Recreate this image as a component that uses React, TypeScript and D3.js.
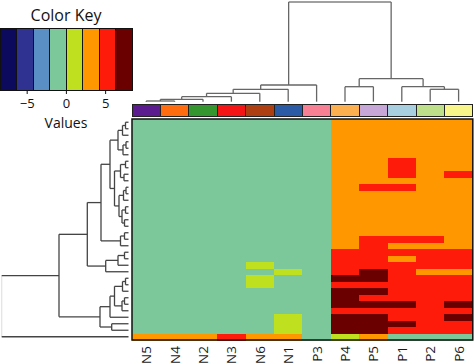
import * as d3 from 'd3';

type Tree = number | [Tree, Tree, number];

// columns in display order (left to right)
const colLabels = ['N5', 'N4', 'N2', 'N3', 'N6', 'N1', 'P3', 'P4', 'P5', 'P1', 'P2', 'P6'];
const colColors = ['#5a1c8e', '#ff6d10', '#35952f', '#f41616', '#ae3f12', '#2c5ba6',
  '#f88095', '#fdb04f', '#c7a7d7', '#a7cfe0', '#bfe08b', '#f8f58b'];

// colour key
const keyColors = ['#0c0a5c', '#2f3291', '#5a8fc6', '#7cc89b', '#bfe01e', '#ff9700', '#ff1b0a', '#6b0000'];
const keyBreaks = [-8.4, -6.3, -4.2, -2.1, 0, 2.1, 4.2, 6.3, 8.4];
const keyTicks = [-5, 0, 5];

// heatmap values, one row per gene (top to bottom)
const values: number[][] = [
  [-0.6, -0.6, -0.6, -0.6, -0.6, -0.6, -0.6, 3.2, 3.2, 3.2, 3.2, 3.2],
  [-0.6, -0.6, -0.6, -0.6, -0.6, -0.6, -0.6, 3.2, 3.2, 3.2, 3.2, 3.2],
  [-0.6, -0.6, -0.6, -0.6, -0.6, -0.6, -0.6, 3.2, 3.2, 3.2, 3.2, 3.2],
  [-0.6, -0.6, -0.6, -0.6, -0.6, -0.6, -0.6, 3.2, 3.2, 3.2, 3.2, 3.2],
  [-0.6, -0.6, -0.6, -0.6, -0.6, -0.6, -0.6, 3.2, 3.2, 3.2, 3.2, 3.2],
  [-0.6, -0.6, -0.6, -0.6, -0.6, -0.6, -0.6, 3.2, 3.2, 3.2, 3.2, 3.2],
  [-0.6, -0.6, -0.6, -0.6, -0.6, -0.6, -0.6, 3.2, 3.2, 5.3, 3.2, 3.2],
  [-0.6, -0.6, -0.6, -0.6, -0.6, -0.6, -0.6, 3.2, 3.2, 5.3, 3.2, 3.2],
  [-0.6, -0.6, -0.6, -0.6, -0.6, -0.6, -0.6, 3.2, 3.2, 5.3, 3.2, 5.3],
  [-0.6, -0.6, -0.6, -0.6, -0.6, -0.6, -0.6, 3.2, 3.2, 3.2, 3.2, 3.2],
  [-0.6, -0.6, -0.6, -0.6, -0.6, -0.6, -0.6, 3.2, 5.3, 5.3, 3.2, 3.2],
  [-0.6, -0.6, -0.6, -0.6, -0.6, -0.6, -0.6, 3.2, 3.2, 3.2, 3.2, 3.2],
  [-0.6, -0.6, -0.6, -0.6, -0.6, -0.6, -0.6, 3.2, 3.2, 3.2, 3.2, 3.2],
  [-0.6, -0.6, -0.6, -0.6, -0.6, -0.6, -0.6, 3.2, 3.2, 3.2, 3.2, 3.2],
  [-0.6, -0.6, -0.6, -0.6, -0.6, -0.6, -0.6, 3.2, 3.2, 3.2, 3.2, 3.2],
  [-0.6, -0.6, -0.6, -0.6, -0.6, -0.6, -0.6, 3.2, 3.2, 3.2, 3.2, 3.2],
  [-0.6, -0.6, -0.6, -0.6, -0.6, -0.6, -0.6, 3.2, 3.2, 3.2, 3.2, 3.2],
  [-0.6, -0.6, -0.6, -0.6, -0.6, -0.6, -0.6, 3.2, 3.2, 3.2, 3.2, 3.2],
  [-0.6, -0.6, -0.6, -0.6, -0.6, -0.6, -0.6, 3.2, 5.3, 5.3, 5.3, 3.2],
  [-0.6, -0.6, -0.6, -0.6, -0.6, -0.6, -0.6, 3.2, 5.3, 3.2, 3.2, 3.2],
  [-0.6, -0.6, -0.6, -0.6, -0.6, -0.6, -0.6, 5.3, 5.3, 5.3, 5.3, 5.3],
  [-0.6, -0.6, -0.6, -0.6, -0.6, -0.6, -0.6, 5.3, 5.3, 3.2, 5.3, 5.3],
  [-0.6, -0.6, -0.6, -0.6, 1.1, -0.6, -0.6, 5.3, 5.3, 5.3, 5.3, 5.3],
  [-0.6, -0.6, -0.6, -0.6, -0.6, 1.1, -0.6, 5.3, 7.4, 5.3, 3.2, 3.2],
  [-0.6, -0.6, -0.6, -0.6, 1.1, -0.6, -0.6, 7.4, 7.4, 5.3, 5.3, 5.3],
  [-0.6, -0.6, -0.6, -0.6, 1.1, -0.6, -0.6, 5.3, 5.3, 5.3, 5.3, 5.3],
  [-0.6, -0.6, -0.6, -0.6, -0.6, -0.6, -0.6, 7.4, 7.4, 5.3, 5.3, 5.3],
  [-0.6, -0.6, -0.6, -0.6, -0.6, -0.6, -0.6, 7.4, 5.3, 5.3, 5.3, 5.3],
  [-0.6, -0.6, -0.6, -0.6, -0.6, -0.6, -0.6, 7.4, 7.4, 7.4, 5.3, 7.4],
  [-0.6, -0.6, -0.6, -0.6, -0.6, -0.6, -0.6, 5.3, 5.3, 5.3, 5.3, 5.3],
  [-0.6, -0.6, -0.6, -0.6, -0.6, 1.1, -0.6, 7.4, 7.4, 5.3, 5.3, 7.4],
  [-0.6, -0.6, -0.6, -0.6, -0.6, 1.1, -0.6, 7.4, 7.4, 7.4, 5.3, 5.3],
  [-0.6, -0.6, -0.6, -0.6, -0.6, 1.1, -0.6, 7.4, 7.4, 5.3, 5.3, 5.3],
  [3.2, 3.2, 3.2, 5.3, 3.2, 3.2, -0.6, 1.1, 3.2, -0.6, -0.6, -0.6],
];

// dendrograms: [left, right, merge height], leaves are display indices
const colTree: Tree = [
  [[[[[[0, 1, 0.7], 2, 2.4], 3, 5], 4, 8.4], 5, 12.4], 6, 16.7],
  [[7, 8, 15], [9, [10, 11, 12.4], 15], 23],
  99.7,
];

const rowTree: Tree = [
  [
    [
      [
        [
          [[[0, 1, 3], 2, 6], [[3, 4, 2.5], 5, 5.5], 10.5],
          [[[6, 7, 3], [8, 9, 4.5], 8], [[[10, 11, 2.5], 12, 5], [[13, 14, 3], [15, 16, 4], 6.5], 9.5], 14],
          18.5,
        ],
        [[17, 18, 4], 19, 8],
        27.5,
      ],
      [[[20, 21, 4], 22, 10.5], 23, 22.8],
      41.2,
    ],
    [
      [[[[24, 25, 3], 26, 6], [[27, 28, 4], 29, 6.5], 14], 30, 18.5],
      [31, 32, 16.8],
      28.5,
    ],
    69.5,
  ],
  33,
  126.8,
];

type Seg = { p1: number; p2: number; h1: number; h2: number; root: boolean };

// walk the tree and collect elbow segments in (position, height) space
function dendroSegs(tree: Tree, leafPos: (i: number) => number, hPos: (h: number) => number) {
  const segs: Seg[] = [];
  const walk = (n: Tree, isRoot: boolean): { p: number; h: number } => {
    if (typeof n === 'number') return { p: leafPos(n), h: 0 };
    const a = walk(n[0], false);
    const b = walk(n[1], false);
    const hv = hPos(n[2]);
    segs.push({ p1: a.p, p2: b.p, h1: hv, h2: hv, root: isRoot });
    segs.push({ p1: a.p, p2: a.p, h1: hv, h2: hPos(a.h), root: false });
    segs.push({ p1: b.p, p2: b.p, h1: hv, h2: hPos(b.h), root: false });
    return { p: (a.p + b.p) / 2, h: n[2] };
  };
  walk(tree, true);
  return segs;
}

const W = 474;
const H = 364;
const font = '"Open Sans", "DejaVu Sans", sans-serif';

export default function App() {
  const x = d3.scaleBand<string>().domain(colLabels).range([132, 472.8]);
  const y = d3.scaleBand<number>().domain(d3.range(values.length)).range([119, 340]);
  const color = d3.scaleThreshold<number, string>().domain(keyBreaks.slice(1, -1)).range(keyColors);

  const colH = d3.scaleLinear().domain([0, 99.7]).range([101.7, 2]);
  const rowH = d3.scaleLinear().domain([0, 126.8]).range([128.5, 1.7]);

  const colSegs = dendroSegs(colTree, (i) => x(colLabels[i])! + x.bandwidth() / 2, colH);
  const rowSegs = dendroSegs(rowTree, (i) => y(i)! + y.bandwidth() / 2, rowH);

  const keyX = d3.scaleLinear().domain([keyBreaks[0], keyBreaks[keyBreaks.length - 1]]).range([0.5, 132.3]);

  return (
    <svg width={W} height={H} style={{ position: 'absolute', left: 0, top: 0, background: '#fff' }} fontFamily={font}>
      {/* colour key */}
      <text x={66} y={20.5} textAnchor="middle" fontSize={16} fill="#111">Color Key</text>
      <g shapeRendering="crispEdges">
        {keyColors.map((c, i) => (
          <rect key={i} x={keyX(keyBreaks[i])} y={28.5} width={keyX(keyBreaks[i + 1]) - keyX(keyBreaks[i])} height={61.5}
            fill={c} stroke="#111" strokeWidth={1} />
        ))}
      </g>
      {keyTicks.map((t) => (
        <g key={t}>
          <line x1={keyX(t)} x2={keyX(t)} y1={90} y2={94} stroke="#111" />
          <text x={keyX(t)} y={108} textAnchor="middle" fontSize={13} fill="#111">{String(t).replace('-', '\u2212')}</text>
        </g>
      ))}
      <text x={66} y={128} textAnchor="middle" fontSize={14} fill="#111">Values</text>

      {/* column dendrogram */}
      <g fill="none">
        {colSegs.map((s, i) => (
          <line key={i} x1={s.p1} x2={s.p2} y1={s.h1} y2={s.h2}
            stroke={s.root ? '#a0a0a0' : '#666'} strokeWidth={s.root ? 2.2 : 1.3} />
        ))}
      </g>

      {/* row dendrogram */}
      <g fill="none">
        {rowSegs.map((s, i) => (
          <line key={i} x1={s.h1} x2={s.h2} y1={s.p1} y2={s.p2}
            stroke={s.root ? '#e4e4e4' : '#444'} strokeWidth={1.3} />
        ))}
      </g>

      {/* column side colours */}
      <g shapeRendering="crispEdges">
        {colLabels.map((c, i) => (
          <rect key={c} x={x(c)} y={104} width={x.bandwidth()} height={12} fill={colColors[i]} stroke="#222" strokeWidth={1} />
        ))}
      </g>

      {/* heatmap */}
      <g shapeRendering="crispEdges">
        {values.map((row, r) =>
          row.map((v, c) => (
            <rect key={r + '-' + c} x={x(colLabels[c])} y={y(r)} width={x.bandwidth() + 0.5} height={y.bandwidth() + 0.5} fill={color(v)} />
          ))
        )}
      </g>
      <rect x={132} y={119} width={340.8} height={221} fill="none" stroke="#111" strokeWidth={1.5} />

      {/* column labels */}
      {colLabels.map((c) => (
        <text key={c} transform={`translate(${x(c)! + x.bandwidth() / 2},346) rotate(-90)`} textAnchor="end"
          dominantBaseline="central" fontSize={13.5} fill="#1a1a1a">{c}</text>
      ))}
    </svg>
  );
}
